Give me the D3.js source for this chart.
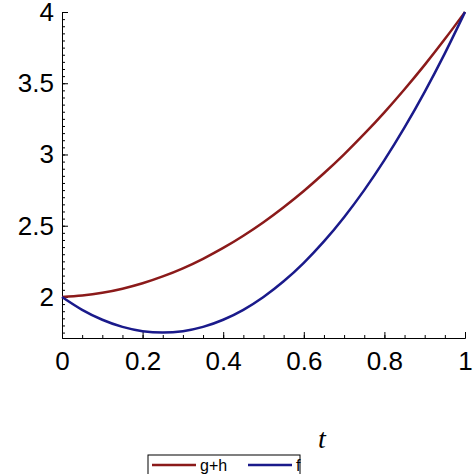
<!DOCTYPE html>
<html><head><meta charset="utf-8">
<script src="https://cdn.jsdelivr.net/npm/d3@7"></script>
<style>body{margin:0;background:#fff}</style>
</head><body><div id="graph"></div>
<script>
const tValues = [0,0.05,0.1,0.15,0.2,0.25,0.3,0.35,0.4,0.45,0.5,0.55,0.6,0.65,0.7,0.75,0.8,0.85,0.9,0.95,1];
const fValues = [2,1.91,1.84,1.79,1.76,1.75,1.76,1.79,1.84,1.91,2,2.11,2.24,2.39,2.56,2.75,2.96,3.19,3.44,3.71,4];
const ghValues = [2,2.01,2.029,2.058,2.096,2.144,2.201,2.268,2.344,2.43,2.525,2.63,2.744,2.868,3.001,3.144,3.296,3.458,3.629,3.81,4];
const xTicks = [0,0.2,0.4,0.6,0.8,1];
const yTicks = [2,2.5,3,3.5,4];
const seriesNames = ["g+h","f"];
const colors = ["#8b1a1a","#1a1a8b"];

const w = 474, h = 474;
const svg = d3.select("#graph").append("svg").attr("width", w).attr("height", h)
  .style("font-family","Liberation Sans, Arial, sans-serif");

const x = d3.scaleLinear().domain([0,1]).range([62,465]);
const y = d3.scaleLinear().domain([1.712,4]).range([338,12]);

// minor ticks
const xMinor = d3.range(0,1.0001,0.05), yMinor = d3.range(1.75,4.0001,0.05);
svg.append("g").attr("transform","translate(0,338)")
  .call(d3.axisBottom(x).tickValues(xMinor).tickSize(-3).tickFormat(""))
  .call(g => g.select(".domain").remove());
svg.append("g").attr("transform","translate(62,0)")
  .call(d3.axisLeft(y).tickValues(yMinor).tickSize(-3).tickFormat(""))
  .call(g => g.select(".domain").remove());

svg.append("g").attr("transform","translate(0,338)")
  .call(d3.axisBottom(x).tickValues(xTicks).tickSize(-6).tickPadding(14).tickFormat(d3.format("")))
  .call(g => g.selectAll("text").attr("font-size",26).attr("fill","#000").attr("font-family","Liberation Sans, Arial, sans-serif"));
svg.append("g").attr("transform","translate(62,0)")
  .call(d3.axisLeft(y).tickValues(yTicks).tickSize(-6).tickPadding(8).tickFormat(d3.format("")))
  .call(g => g.selectAll("text").attr("font-size",26).attr("fill","#000").attr("font-family","Liberation Sans, Arial, sans-serif"));

const line = vals => d3.line().curve(d3.curveMonotoneX)
  .x((d,i) => x(tValues[i])).y(d => y(d))(vals);
[ghValues,fValues].forEach((vals,i) => {
  svg.append("path").attr("d", line(vals)).attr("fill","none")
    .attr("stroke", colors[i]).attr("stroke-width",2.5);
});

svg.append("text").attr("x",322).attr("y",448).attr("text-anchor","middle")
  .attr("font-size",28).attr("font-style","italic").attr("font-family","Liberation Serif, serif").text("t");

// legend
const lg = svg.append("g");
lg.append("rect").attr("x",148).attr("y",455).attr("width",152).attr("height",30)
  .attr("fill","#fff").attr("stroke","#000");
seriesNames.forEach((name,i) => {
  const ox = 152 + i*96;
  lg.append("line").attr("x1",ox).attr("x2",ox+44).attr("y1",465).attr("y2",465)
    .attr("stroke",colors[i]).attr("stroke-width",2.5);
  lg.append("text").attr("x",ox+48).attr("y",471).attr("font-size",16).text(name);
});
</script></body></html>
